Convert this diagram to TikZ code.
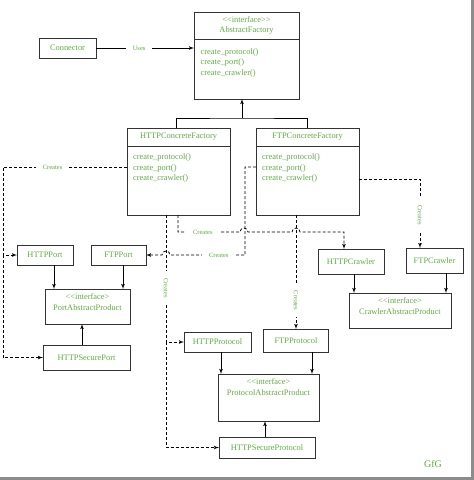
\documentclass[tikz,border=0pt]{standalone}
\usepackage{fontspec}
\setmainfont{Liberation Serif}
\usetikzlibrary{arrows,positioning}
\definecolor{gfggreen}{RGB}{92,172,64}
\definecolor{framegray}{RGB}{140,140,140}

\begin{document}
\begin{tikzpicture}[x=1pt, y=-1pt, font=\fontsize{8.4}{10.5}\selectfont]
    % Define styles
    \tikzstyle{box}=[rectangle, draw=black!80, line width=0.8pt, outer sep=0pt, inner sep=0pt, text=gfggreen, align=center]
    \tikzstyle{boxlabel}=[inner sep=0pt, text=gfggreen, align=center]
    \tikzstyle{methods}=[inner sep=0pt, text=gfggreen, align=left, anchor=north west]
    \tikzstyle{line}=[draw, line width=0.8pt, -latex']
    \tikzstyle{dashline}=[draw, line width=0.8pt, dash pattern=on 3pt off 2pt, -latex']
    \tikzstyle{tag}=[fill=white, text=gfggreen, font=\fontsize{6.5}{7}\selectfont, inner xsep=7pt, inner ysep=1pt]
    \tikzstyle{vtag}=[tag, rotate=-90]

    \useasboundingbox (0,0) rectangle (474,480);
    \fill [framegray] (471,0) rectangle (474,480);
    \fill [framegray] (0,477) rectangle (474,480);

    % Client and factories
    \node [box, minimum width=57pt, minimum height=20pt] (connector) at (67.5,48) {Connector};
    \node [box, minimum width=105pt, minimum height=27pt] (afhead) at (246.5,25.5) {<\kern0pt<interface>\kern0pt>\\AbstractFactory};
    \node [box, minimum width=105pt, minimum height=60pt, below=0pt of afhead] (afbody) {};
    \node [methods, below right=9pt and 6.5pt of afbody.north west] (afmethods) {create\_protocol()\\create\_port()\\create\_crawler()};

    \node [box, minimum width=103pt, minimum height=18pt] (httphead) at (178.5,137) {HTTPConcreteFactory};
    \node [box, minimum width=103pt, minimum height=69pt, below=0pt of httphead] (httpbody) {};
    \node [methods, below right=7.5pt and 6pt of httpbody.north west] (httpmethods) {create\_protocol()\\create\_port()\\create\_crawler()};

    \node [box, minimum width=103pt, minimum height=18pt, right=26pt of httphead] (ftphead) {FTPConcreteFactory};
    \node [box, minimum width=103pt, minimum height=69pt, below=0pt of ftphead] (ftpbody) {};
    \node [methods, below right=7.5pt and 6pt of ftpbody.north west] (ftpmethods) {create\_protocol()\\create\_port()\\create\_crawler()};

    % Port products
    \node [box, minimum width=56pt, minimum height=20pt] (httpport) at (45,255) {HTTPPort};
    \node [box, minimum width=55pt, minimum height=20pt, right=18pt of httpport] (ftpport) {FTPPort};
    \node [box, minimum width=85pt, minimum height=35pt] (portproduct) at (87.5,306.5) {};
    \node [boxlabel, below=4.5pt of portproduct.north] (portlabel) {<\kern0pt<interface>\\PortAbstractProduct};
    \node [box, minimum width=87pt, minimum height=25pt] (httpsecureport) at (86.5,357.5) {HTTPSecurePort};

    % Protocol products
    \node [box, minimum width=67pt, minimum height=20pt] (httpprotocol) at (217.5,342) {HTTPProtocol};
    \node [box, minimum width=65pt, minimum height=23pt] (ftpprotocol) at (296,340.5) {FTPProtocol};
    \node [box, minimum width=101pt, minimum height=47pt] (protocolproduct) at (268.5,397.5) {};
    \node [boxlabel, below=4.5pt of protocolproduct.north] (protocollabel) {<\kern0pt<interface>\\ProtocolAbstractProduct};
    \node [box, minimum width=96pt, minimum height=21pt] (httpsecureprotocol) at (267,447.5) {HTTPSecureProtocol};

    % Crawler products
    \node [box, minimum width=66pt, minimum height=25pt] (httpcrawler) at (351,261.5) {HTTPCrawler};
    \node [box, minimum width=57pt, minimum height=25pt] (ftpcrawler) at (434.5,260.5) {FTPCrawler};
    \node [box, minimum width=102pt, minimum height=35pt] (crawlerproduct) at (400,310.5) {};
    \node [boxlabel, below=4.5pt of crawlerproduct.north] (crawlerlabel) {<\kern0pt<interface>\\CrawlerAbstractProduct};

    \node [text=gfggreen, font=\fontsize{10}{12}\selectfont] (gfg) at (433,464) {GfG};

    % Uses and inheritance
    \path [line] (connector.east) -- node [tag, pos=0.44] (uses) {Uses} (connector.east -| afbody.west);
    \coordinate (inherit) at (242,118);
    \draw [line width=0.8pt] ([xshift=-2.5pt]httphead.north) |- (inherit) -| (ftphead.north);
    \path [line] (inherit) -- (inherit |- afbody.south);

    % Creates from HTTPConcreteFactory
    \coordinate (portrail) at (3,167);
    \path [dashline] (httpbody.west |- portrail) -- node [tag, pos=0.6] (createsport) {Creates} (portrail) |- (httpport.west);
    \path [dashline] (portrail |- httpport.west) |- (httpsecureport.west);

    \coordinate (protorail) at (166,215);
    \path [dashline] (protorail |- httpprotocol.west) |- (httpsecureprotocol.west);
    \path [dashline] (protorail) -- node [vtag, pos=0.575] (createsproto) {Creates} (protorail |- httpprotocol.west) -- (httpprotocol.west);

    \coordinate (crawlrow) at (178,232);
    \coordinate (crawlin) at ([xshift=-7pt]httpcrawler.north);
    \path [dashline] (crawlrow |- httpbody.south) -- (crawlrow) -- node [tag, pos=0.4] (createscrawl) {Creates} (240,232) arc (180:360:4) -- (292,232) arc (180:360:4) -- (crawlin |- crawlrow) -- (crawlin);

    % Creates from FTPConcreteFactory
    \coordinate (ftpportturn) at (245,167);
    \path [dashline] (ftpbody.west |- ftpportturn) -- (ftpportturn) -- (ftpportturn |- ftpport.east) -- node [tag, pos=0.35] (createsftpport) {Creates} (170,255) arc (0:-180:4) -- (ftpport.east);
    \path [dashline] (ftpbody.south -| ftpprotocol.north) -- node [vtag, pos=0.75] (createsftpproto) {Creates} (ftpprotocol.north);
    \coordinate (crawlturn) at (420,179);
    \path [dashline] (ftpbody.east |- crawlturn) -- (crawlturn) -- node [vtag, pos=0.52] (createsftpcrawl) {Creates} (crawlturn |- ftpcrawler.north);

    % Products to interfaces
    \path [line] ([xshift=9pt]httpport.south) -- ([xshift=9pt]httpport.south |- portproduct.north);
    \path [line] ([xshift=4.5pt]ftpport.south) -- ([xshift=4.5pt]ftpport.south |- portproduct.north);
    \path [line] ([xshift=-4.5pt]httpsecureport.north) -- ([xshift=-4.5pt]httpsecureport.north |- portproduct.south);
    \path [line] ([xshift=3.5pt]httpprotocol.south) -- ([xshift=3.5pt]httpprotocol.south |- protocolproduct.north);
    \path [line] ([xshift=16pt]ftpprotocol.south) -- ([xshift=16pt]ftpprotocol.south |- protocolproduct.north);
    \path [line] ([xshift=-2pt]httpsecureprotocol.north) -- ([xshift=-2pt]httpsecureprotocol.north |- protocolproduct.south);
    \path [line] ([xshift=3pt]httpcrawler.south) -- ([xshift=3pt]httpcrawler.south |- crawlerproduct.north);
    \path [line] ([xshift=11.5pt]ftpcrawler.south) -- ([xshift=11.5pt]ftpcrawler.south |- crawlerproduct.north);
\end{tikzpicture}
\end{document}
